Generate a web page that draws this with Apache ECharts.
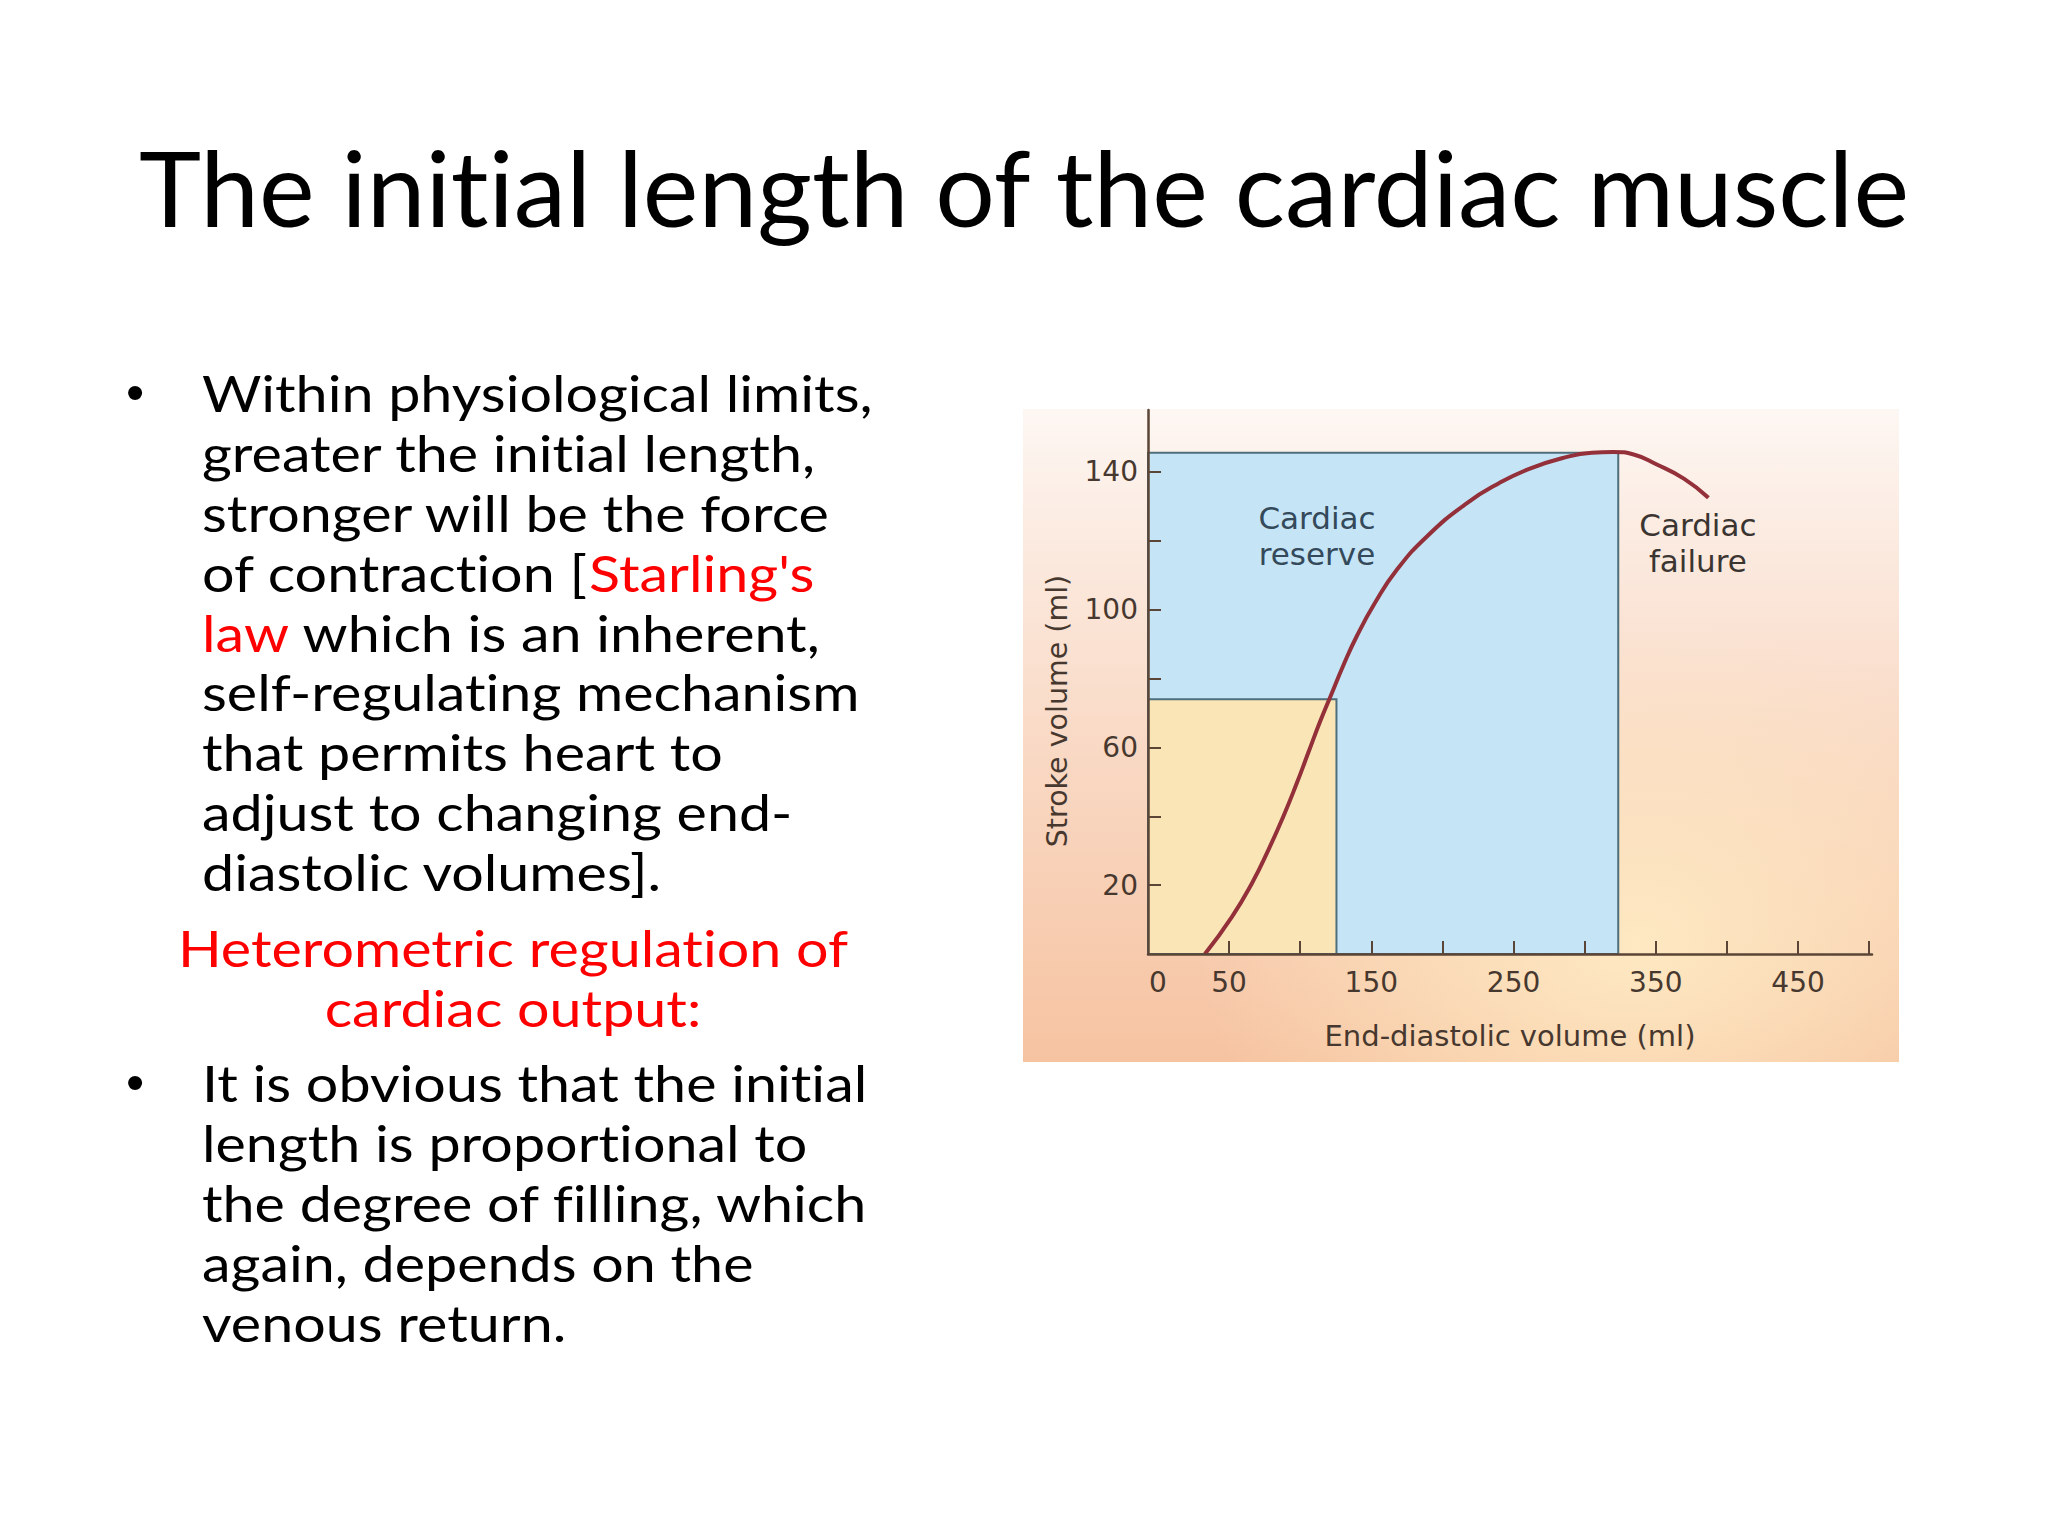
<!DOCTYPE html>
<html>
<head>
<meta charset="utf-8">
<script src="https://cdn.jsdelivr.net/npm/echarts@6/dist/echarts.min.js"></script>
<style>
html,body{margin:0;padding:0;background:#ffffff;}
#main{width:2048px;height:1536px;}
#main text, #main tspan{font-variant-ligatures:none !important;font-feature-settings:"liga" 0,"clig" 0 !important;}
</style>
</head>
<body>
<div id="main"></div>
<script>
// ---------------- data ----------------
const titleText = 'The initial length of the cardiac muscle';
const bullet1Lines = [
  [['Within physiological limits,', 'k']],
  [['greater the initial length,', 'k']],
  [['stronger will be the force', 'k']],
  [['of contraction [', 'k'], ["Starling's", 'r']],
  [['law', 'r'], [' which is an inherent,', 'k']],
  [['self-regulating mechanism', 'k']],
  [['that permits heart to', 'k']],
  [['adjust to changing end-', 'k']],
  [['diastolic volumes].', 'k']]
];
const headingLines = ['Heterometric regulation of', 'cardiac output:'];
const bullet2Lines = [
  'It is obvious that the initial',
  'length is proportional to',
  'the degree of filling, which',
  'again, depends on the',
  'venous return.'
];

const xAxisName = 'End-diastolic volume (ml)';
const yAxisName = 'Stroke volume (ml)';
const xTickValues = [50, 100, 150, 200, 250, 300, 350, 400, 450, 500];
const xLabelValues = [0, 50, 150, 250, 350, 450];
const yTickValues = [20, 40, 60, 80, 100, 120, 140];
const yLabelValues = [20, 60, 100, 140];

// Frank-Starling curve: end-diastolic volume (ml) vs stroke volume (ml)
const curveEDV = [33, 52, 66, 77.5, 88, 97.5, 106, 114, 122, 130, 140, 152.6, 167.8, 188.9, 217, 240, 261.5, 284, 305, 320, 335, 350, 370, 387];
const curveSV  = [0, 10.8, 20.5, 30.1, 39.8, 49.5, 58.8, 67.5, 75.5, 83.5, 92.5, 102, 111.5, 121.2, 130.9, 136.8, 141, 144, 145.6, 145.8, 145, 142.3, 138, 132.5];

// shaded regions: [edvStart, svStart, edvEnd, svEnd]
const reserveRegion = [-7, 0, 323.6, 145.6];
const restingRegion = [-7, 0, 125.5, 74];

const annotationNames = ['Cardiac\nreserve', 'Cardiac\nfailure'];
const annotationEDV = [111.8, 379.6];
const annotationSV = [121.4, 119.5];

// ---------------- layout helpers ----------------
const BODY_FONT = 'Lato';
const cv = document.createElement('canvas').getContext('2d');
function fitSize(text, family, target) {
  cv.font = '100px ' + family;
  return 100 * target / cv.measureText(text).width;
}
const titleSize = fitSize(titleText, BODY_FONT, 1774);
const fitBody = fitSize(bullet1Lines[0][0][0], BODY_FONT, 671);
const VERT_BODY = 49.5;                       // effective vertical size (keeps line boxes apart)
const bodySize = Math.sqrt(VERT_BODY * fitBody);
const SX = fitBody / bodySize;
const SY = VERT_BODY / bodySize;

const richStyles = {
  k: {fontFamily: BODY_FONT, fontSize: bodySize, fill: '#000000', lineHeight: 56},
  r: {fontFamily: BODY_FONT, fontSize: bodySize, fill: '#ff0000', lineHeight: 56}
};
function richText(segs) {
  return segs.map(s => '{' + s[1] + '|' + s[0] + '}').join('');
}
const BASE_OFF = 0.33;
const graphics = [];

// chart panel background
graphics.push({
  type: 'rect', z: -10, silent: true,
  shape: {x: 1023, y: 409, width: 876, height: 653},
  style: {fill: new echarts.graphic.LinearGradient(0, 0, 0, 1, [
    {offset: 0, color: '#fdf7f3'},
    {offset: 0.12, color: '#fcefe7'},
    {offset: 0.5, color: '#f9dac6'},
    {offset: 1, color: '#f6c3a1'}
  ])}
});
graphics.push({
  type: 'rect', z: -9, silent: true,
  shape: {x: 1023, y: 409, width: 876, height: 653},
  style: {fill: new echarts.graphic.RadialGradient(0.7, 0.82, 0.5, [
    {offset: 0, color: 'rgba(254,236,196,0.9)'},
    {offset: 1, color: 'rgba(254,236,196,0)'}
  ])}
});

// title
graphics.push({
  type: 'text', x: 1024, y: 221 - BASE_OFF * titleSize,
  style: {text: titleText, fontFamily: BODY_FONT, fontSize: titleSize, fill: '#000000', align: 'center', verticalAlign: 'middle', lineHeight: 110}
});

function yFor(base) { return base - (4 + BASE_OFF * bodySize) * SY; }
function bodyText(x, base, segs, align) {
  return {type: 'text', x: x, y: yFor(base), scaleX: SX, scaleY: SY,
    style: {text: richText(segs), rich: richStyles, align: align, verticalAlign: 'middle'}};
}
function bulletMark(base) {
  return {type: 'text', x: 135, y: base - 4 - BASE_OFF * 52,
    style: {text: '\u2022', fontFamily: 'Liberation Sans', fontSize: 52, fill: '#000', align: 'center', verticalAlign: 'middle', lineHeight: 40}};
}

// bullet 1
bullet1Lines.forEach((segs, i) => {
  const base = 413 + i * 59.8;
  if (i === 0) graphics.push(bulletMark(base));
  graphics.push(bodyText(202, base, segs, 'left'));
});
// red heading
headingLines.forEach((t, i) => {
  graphics.push(bodyText(513, 968 + i * 60, [[t, 'r']], 'center'));
});
// bullet 2
bullet2Lines.forEach((t, i) => {
  const base = 1103 + i * 60;
  if (i === 0) graphics.push(bulletMark(base));
  graphics.push(bodyText(202, base, [[t, 'k']], 'left'));
});

// ---------------- chart ----------------
const AXIS_COLOR = '#5a4536';
const LABEL_COLOR = '#47382f';
const CHART_FONT = 'DejaVu Sans';

const regionStyles = [
  {fill: '#c5e5f7', stroke: '#4f6e7b', lineWidth: 2},
  {fill: '#fae5b7', stroke: '#4f6e7b', lineWidth: 2}
];
const annotationColors = ['#34495a', '#3b3532'];

const chart = echarts.init(document.getElementById('main'), null, {renderer: 'svg'});
chart.setOption({
  animation: false,
  backgroundColor: '#ffffff',
  graphic: {elements: graphics},
  grid: {left: 1148, top: 410, width: 724, height: 544, containLabel: false},
  xAxis: {
    type: 'value', min: -7, max: 502, z: 10,
    axisLine: {onZero: false, lineStyle: {color: AXIS_COLOR, width: 2.5}},
    axisTick: {inside: true, length: 13, customValues: xTickValues, lineStyle: {color: AXIS_COLOR, width: 2}},
    axisLabel: {customValues: xLabelValues, margin: 14, fontSize: 28, fontFamily: CHART_FONT, color: LABEL_COLOR},
    splitLine: {show: false},
    name: xAxisName, nameLocation: 'middle', nameGap: 67,
    nameTextStyle: {fontSize: 29, fontFamily: CHART_FONT, color: LABEL_COLOR}
  },
  yAxis: {
    type: 'value', min: 0, max: 158, z: 10,
    axisLine: {onZero: false, lineStyle: {color: AXIS_COLOR, width: 2.5}},
    axisTick: {inside: true, length: 13, customValues: yTickValues, lineStyle: {color: AXIS_COLOR, width: 2}},
    axisLabel: {customValues: yLabelValues, margin: 10, fontSize: 28, fontFamily: CHART_FONT, color: LABEL_COLOR},
    splitLine: {show: false},
    name: yAxisName, nameLocation: 'middle', nameGap: 76,
    nameTextStyle: {fontSize: 28.5, fontFamily: CHART_FONT, color: LABEL_COLOR, padding: [0, 58, 0, 0]}
  },
  series: [
    {
      type: 'custom', z: 1, silent: true,
      data: [reserveRegion, restingRegion],
      renderItem: function (params, api) {
        const p0 = api.coord([api.value(0), api.value(1)]);
        const p1 = api.coord([api.value(2), api.value(3)]);
        const st = regionStyles[params.dataIndex];
        return {
          type: 'rect',
          shape: {x: p0[0], y: p1[1], width: p1[0] - p0[0], height: p0[1] - p1[1]},
          style: {fill: st.fill, stroke: st.stroke, lineWidth: st.lineWidth}
        };
      }
    },
    {
      type: 'line', z: 3, smooth: 0.5, showSymbol: false, silent: true,
      data: curveEDV.map((x, i) => [x, curveSV[i]]),
      lineStyle: {color: '#93303a', width: 4}
    },
    {
      type: 'custom', z: 4, silent: true,
      data: annotationEDV.map((x, i) => [x, annotationSV[i]]),
      renderItem: function (params, api) {
        const p = api.coord([api.value(0), api.value(1)]);
        return {
          type: 'text', x: p[0], y: p[1],
          style: {text: annotationNames[params.dataIndex], fontFamily: CHART_FONT, fontSize: 31,
            lineHeight: 36, fill: annotationColors[params.dataIndex], align: 'center', verticalAlign: 'middle'}
        };
      }
    }
  ]
});
</script>
</body>
</html>
